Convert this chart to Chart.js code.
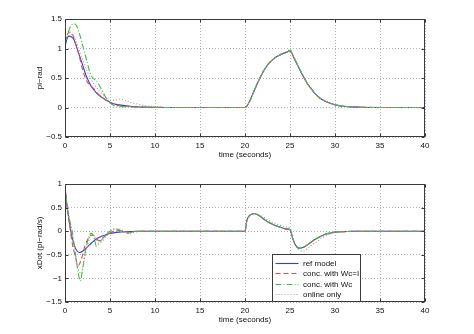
<!DOCTYPE html>
<html>
<head>
<meta charset="utf-8">
<script src="https://cdn.jsdelivr.net/npm/chart.js@4.4.1/dist/chart.umd.min.js"></script>
<style>
  body { margin: 0; background: #fff; }
  #wrap { position: relative; width: 474px; height: 334px; }
  canvas { position: absolute; left: 0; }
  #angle { top: 0; }
  #rate { top: 167px; }
</style>
</head>
<body>
<div id="wrap">
  <canvas id="angle" width="474" height="167"></canvas>
  <canvas id="rate" width="474" height="167"></canvas>
</div>
<script>
// tick values for both panels
const timeTicks = [0, 5, 10, 15, 20, 25, 30, 35, 40];
const angleTicks = [-0.5, 0, 0.5, 1, 1.5];
const rateTicks = [-1.5, -1, -0.5, 0, 0.5, 1];

// top panel (pi-rad), first transient
const refAngleT = [0, 0.2, 0.4, 0.7, 1, 1.3, 1.7, 2, 2.3, 2.7, 3, 3.5, 4, 4.5, 5, 5.5, 6, 7, 8, 9, 10, 12];
const refAngle = [1.03, 1.15, 1.21, 1.2, 1.15, 1.02, 0.84, 0.7, 0.56, 0.42, 0.34, 0.25, 0.18, 0.13, 0.09, 0.06, 0.045, 0.025, 0.012, 0.006, 0.003, 0];
const concIAngleT = [0, 0.2, 0.5, 0.8, 1.1, 1.5, 2, 2.4, 2.8, 3.2, 3.6, 4, 4.5, 5, 5.5, 6, 7, 8, 10, 12];
const concIAngle = [1.1, 1.22, 1.28, 1.25, 1.12, 0.92, 0.62, 0.45, 0.38, 0.32, 0.24, 0.19, 0.13, 0.08, 0.05, 0.03, 0.02, 0.01, 0.003, 0];
const concWAngleT = [0, 0.3, 0.6, 1, 1.3, 1.7, 2, 2.4, 2.8, 3.1, 3.5, 4, 4.5, 5, 5.5, 6, 7, 8, 10, 12];
const concWAngle = [1.1, 1.25, 1.37, 1.42, 1.38, 1.2, 1.03, 0.8, 0.58, 0.5, 0.45, 0.32, 0.18, 0.08, 0.03, 0.02, 0.01, 0.005, 0, 0];
const onlineAngleT = [0, 0.5, 1, 1.5, 2, 2.5, 3, 3.5, 4, 4.5, 5, 5.5, 6, 6.5, 7, 8, 9, 10, 11, 12];
const onlineAngle = [1.1, 1.25, 1.2, 1.0, 0.8, 0.6, 0.45, 0.34, 0.25, 0.18, 0.13, 0.12, 0.14, 0.13, 0.1, 0.06, 0.03, 0.015, 0.005, 0];

// top panel, second command (starts at t = 20)
const pulseAngleT = [20, 20.5, 21, 21.5, 22, 22.5, 23, 23.5, 24, 24.5, 25, 25.5, 26, 26.5, 27, 27.5, 28, 28.5, 29, 29.5, 30, 31, 32, 33, 35, 40];
const pulseAngle = [0, 0.1, 0.28, 0.45, 0.6, 0.72, 0.8, 0.86, 0.9, 0.93, 0.96, 0.82, 0.67, 0.52, 0.39, 0.29, 0.2, 0.14, 0.1, 0.07, 0.045, 0.02, 0.01, 0.005, 0, 0];
const pulseAngleOnline = [0, 0.1, 0.27, 0.44, 0.59, 0.71, 0.8, 0.86, 0.91, 0.94, 0.98, 0.84, 0.68, 0.53, 0.4, 0.3, 0.21, 0.15, 0.1, 0.07, 0.05, 0.02, 0.01, 0.005, 0, 0];

// bottom panel (pi-rad/s), first transient
const refRateT = [0, 0.2, 0.4, 0.7, 1, 1.3, 1.6, 2, 2.5, 3, 3.5, 4, 4.5, 5, 5.5, 6, 7, 8, 10];
const refRate = [0.95, 0.55, 0.3, -0.05, -0.28, -0.41, -0.45, -0.42, -0.33, -0.24, -0.16, -0.11, -0.08, -0.05, -0.03, -0.02, -0.01, 0, 0];
const concIRateT = [0, 0.2, 0.5, 0.8, 1.1, 1.5, 1.8, 2.2, 2.5, 2.8, 3.1, 3.4, 3.8, 4.2, 4.6, 5, 5.5, 6, 6.5, 7, 8, 10];
const concIRate = [0.95, 0.6, 0.15, -0.25, -0.5, -0.72, -0.6, -0.32, -0.18, -0.1, -0.08, -0.14, -0.2, -0.14, -0.08, -0.04, 0.01, 0.02, 0, -0.02, 0, 0];
const concWRateT = [0, 0.2, 0.5, 0.8, 1.1, 1.4, 1.7, 2, 2.3, 2.6, 2.9, 3.2, 3.5, 3.8, 4.2, 4.6, 5, 5.5, 6, 6.5, 7, 7.5, 8, 10];
const concWRate = [0.95, 0.55, 0.25, 0.0, -0.4, -0.8, -1.05, -0.75, -0.4, -0.15, -0.04, -0.12, -0.32, -0.25, -0.15, -0.06, 0.0, 0.05, 0.03, -0.02, -0.04, -0.02, 0, 0];
const onlineRateT = [0, 0.3, 0.7, 1, 1.4, 1.8, 2.1, 2.5, 2.9, 3.3, 3.7, 4.1, 4.6, 5, 5.5, 6, 6.5, 7, 7.5, 8.5, 10];
const onlineRate = [0.95, 0.45, 0, -0.4, -0.75, -0.9, -0.65, -0.3, -0.08, -0.1, -0.25, -0.22, -0.1, -0.02, 0.04, 0.05, 0, -0.05, -0.03, 0, 0];

// bottom panel, second command
const pulseRateT = [20, 20.2, 20.5, 21, 21.5, 22, 22.5, 23, 23.5, 24, 24.5, 25, 25.3, 25.6, 26, 26.5, 27, 27.5, 28, 28.5, 29, 29.5, 30, 31, 32, 35, 40];
const pulseRate = [0, 0.22, 0.33, 0.37, 0.34, 0.27, 0.2, 0.15, 0.11, 0.08, 0.05, 0.03, -0.15, -0.29, -0.36, -0.34, -0.28, -0.21, -0.15, -0.1, -0.06, -0.04, -0.02, -0.01, 0, 0, 0];
const pulseRateOnline = [0, 0.2, 0.32, 0.37, 0.35, 0.3, 0.24, 0.19, 0.15, 0.12, 0.09, 0.06, -0.1, -0.3, -0.4, -0.42, -0.36, -0.28, -0.22, -0.15, -0.1, -0.06, -0.03, -0.01, 0, 0, 0];

const FONT = { family: "'Liberation Sans', Arial, Helvetica, sans-serif", size: 8 };

// glue the first transient and the second command into one point list
function toPoints(t1, v1, t2, v2) {
  const pts = t1.map((t, i) => ({ x: t, y: v1[i] }));
  return pts.concat(t2.map((t, i) => ({ x: t, y: v2[i] })));
}

function makeDatasets(parts) {
  const styles = [
    { label: "ref model", borderColor: "#3b3bd8", borderDash: [] },
    { label: "conc. with Wc=I", borderColor: "#e04a4a", borderDash: [5, 3] },
    { label: "conc. with Wc", borderColor: "#3cbf3c", borderDash: [6, 2, 1, 2] },
    { label: "online only", borderColor: "#9a9a9a", borderDash: [1, 2] }
  ];
  return styles.map((s, i) => Object.assign({
    data: parts[i],
    borderWidth: 1.1,
    pointRadius: 0,
    fill: false,
    cubicInterpolationMode: "monotone"
  }, s)).reverse();
}

// MATLAB style box with inward tick marks on all four sides
const frameBox = {
  id: "frameBox",
  afterDraw(chart) {
    const { ctx, chartArea: a, scales } = chart;
    const L = Math.round(a.left) + 0.5, R = Math.round(a.right) - 0.5;
    const T = Math.round(a.top) + 0.5, B = Math.round(a.bottom) - 0.5;
    ctx.save();
    ctx.strokeStyle = "#3a3a3a";
    ctx.lineWidth = 1;
    ctx.strokeRect(L, T, R - L, B - T);
    ctx.beginPath();
    scales.x.ticks.forEach(tk => {
      const px = Math.round(scales.x.getPixelForValue(tk.value)) + 0.5;
      ctx.moveTo(px, B); ctx.lineTo(px, B - 3);
      ctx.moveTo(px, T); ctx.lineTo(px, T + 3);
    });
    scales.y.ticks.forEach(tk => {
      const py = Math.round(scales.y.getPixelForValue(tk.value)) + 0.5;
      ctx.moveTo(L, py); ctx.lineTo(L + 3, py);
      ctx.moveTo(R, py); ctx.lineTo(R - 3, py);
    });
    ctx.stroke();
    ctx.restore();
  }
};

// legend box sitting inside the lower plot, bottom right
const insideLegend = {
  id: "insideLegend",
  afterDraw(chart, args, opts) {
    if (!opts.show) return;
    const { ctx, chartArea: a } = chart;
    const w = 88, h = 47;
    const x0 = Math.round(a.right - 65 - w) + 0.5;
    const y0 = Math.round(a.bottom - 1 - h) + 0.5;
    ctx.save();
    ctx.fillStyle = "#fff";
    ctx.fillRect(x0, y0, w, h);
    ctx.strokeStyle = "#3a3a3a";
    ctx.lineWidth = 1;
    ctx.strokeRect(x0, y0, w, h);
    const sets = chart.data.datasets.slice().reverse();
    ctx.font = FONT.size + "px " + FONT.family;
    ctx.textBaseline = "middle";
    ctx.fillStyle = "#111";
    sets.forEach((ds, i) => {
      const y = Math.round(y0 + 8.5 + i * 10.3) + 0.5;
      ctx.beginPath();
      ctx.strokeStyle = ds.borderColor;
      ctx.setLineDash(ds.borderDash);
      ctx.lineWidth = 1.1;
      ctx.moveTo(x0 + 3, y);
      ctx.lineTo(x0 + 26, y);
      ctx.stroke();
      ctx.setLineDash([]);
      ctx.fillText(ds.label, x0 + 30.5, y);
    });
    ctx.restore();
  }
};

function buildChart(canvasId, parts, yTicks, yTitle, padTop, xHeight, xTitlePad, showLegend) {
  return new Chart(document.getElementById(canvasId), {
    type: "line",
    data: { datasets: makeDatasets(parts) },
    plugins: [frameBox, insideLegend],
    options: {
      responsive: false,
      animation: false,
      layout: { padding: { top: padTop, right: 49, left: 0, bottom: 0 } },
      plugins: {
        legend: { display: false },
        tooltip: { enabled: false },
        insideLegend: { show: showLegend }
      },
      scales: {
        x: {
          type: "linear",
          min: timeTicks[0],
          max: timeTicks[timeTicks.length - 1],
          afterBuildTicks: s => { s.ticks = timeTicks.map(v => ({ value: v })); },
          afterFit: s => { s.height = xHeight; },
          grid: { color: "#b4b4b4", drawTicks: false, lineWidth: 1 },
          border: { display: false, dash: [1, 2] },
          ticks: { color: "#111", font: FONT, padding: 4, maxRotation: 0 },
          title: { display: true, text: "time (seconds)", color: "#111", font: FONT, padding: { top: 0, bottom: xTitlePad } }
        },
        y: {
          min: yTicks[0],
          max: yTicks[yTicks.length - 1],
          afterBuildTicks: s => { s.ticks = yTicks.map(v => ({ value: v })); },
          afterFit: s => { s.width = 65; },
          grid: { color: "#b4b4b4", drawTicks: false, lineWidth: 1 },
          border: { display: false, dash: [1, 2] },
          ticks: { color: "#111", font: FONT, padding: 3, callback: v => String(v).replace("-", "\u2212") },
          title: { display: true, text: yTitle, color: "#111", font: FONT, padding: { top: 34.5, bottom: 0 } }
        }
      }
    }
  });
}

buildChart("angle", [
  toPoints(refAngleT, refAngle, pulseAngleT, pulseAngle),
  toPoints(concIAngleT, concIAngle, pulseAngleT, pulseAngle),
  toPoints(concWAngleT, concWAngle, pulseAngleT, pulseAngle),
  toPoints(onlineAngleT, onlineAngle, pulseAngleT, pulseAngleOnline)
], angleTicks, "pi\u2212rad", 19, 30, 7.6, false);

buildChart("rate", [
  toPoints(refRateT, refRate, pulseRateT, pulseRate),
  toPoints(concIRateT, concIRate, pulseRateT, pulseRate),
  toPoints(concWRateT, concWRate, pulseRateT, pulseRate),
  toPoints(onlineRateT, onlineRate, pulseRateT, pulseRateOnline)
], rateTicks, "xDot (pi\u2212rad/s)", 17, 32, 9.6, true);
</script>
</body>
</html>
